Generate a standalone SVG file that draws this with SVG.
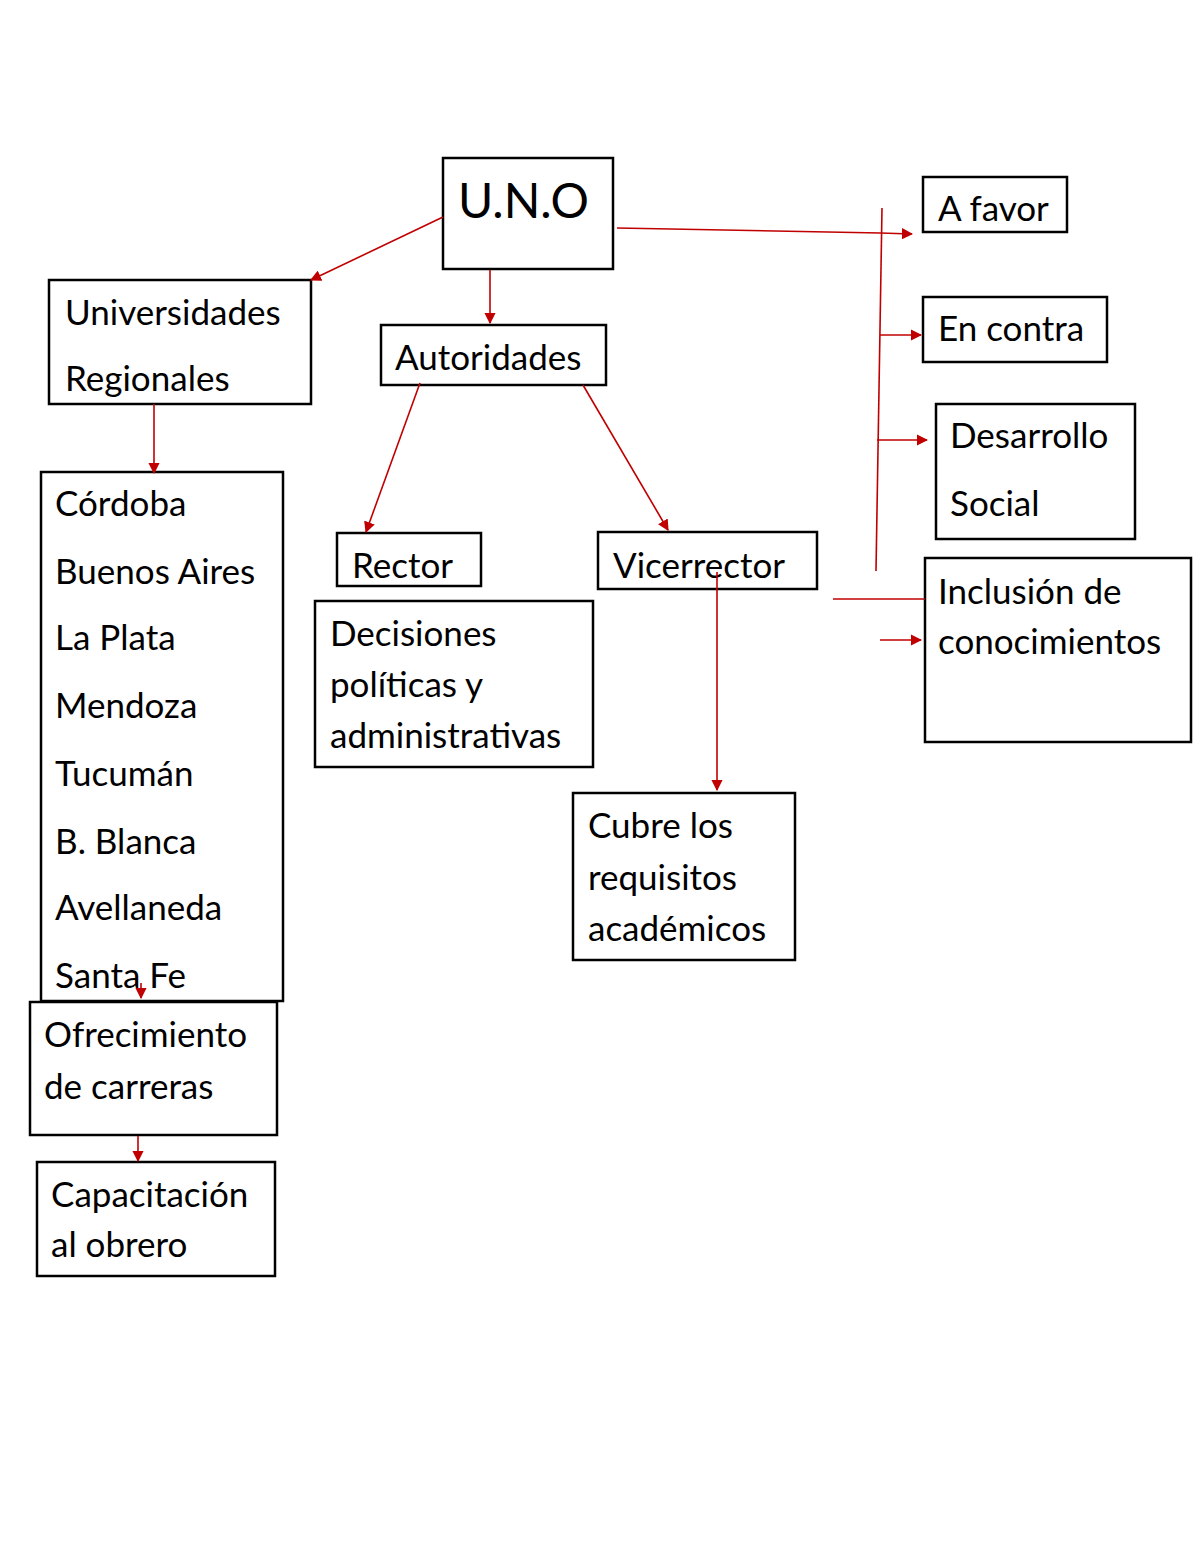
<svg xmlns="http://www.w3.org/2000/svg" width="1200" height="1553" viewBox="0 0 1200 1553">
<style>
.b{fill:none;stroke:#000;stroke-width:2.5}
.t{font-family:Lato,"Open Sans",sans-serif;font-size:35px;fill:#000}
.c line,.c polyline{stroke:#c00000;stroke-width:1.6;fill:none}
</style>
<defs><marker id="a" viewBox="0 0 10 10" refX="9" refY="5" markerWidth="7" markerHeight="7" orient="auto"><path d="M0,0L10,5L0,10z" fill="#c00000"/></marker></defs>
<rect width="1200" height="1553" fill="#fff"/>
<g id="uno"><rect class="b" x="443" y="158" width="170" height="111"/><text class="t" x="458" y="218" style="font-size:48px">U.N.O</text></g>
<g id="univ"><rect class="b" x="49" y="280" width="262" height="124"/><text class="t" x="65" y="325">Universidades</text><text class="t" x="65" y="391">Regionales</text></g>
<g id="aut"><rect class="b" x="381" y="325" width="225" height="60"/><text class="t" x="395" y="370">Autoridades</text></g>
<g id="ciudades"><rect class="b" x="41" y="472" width="242" height="529"/>
<text class="t" x="55" y="516">Córdoba</text><text class="t" x="55" y="584">Buenos Aires</text><text class="t" x="55" y="650">La Plata</text><text class="t" x="55" y="718">Mendoza</text><text class="t" x="55" y="786">Tucumán</text><text class="t" x="55" y="854">B. Blanca</text><text class="t" x="55" y="920">Avellaneda</text><text class="t" x="55" y="988">Santa Fe</text></g>
<g id="rector"><rect class="b" x="337" y="533" width="144" height="53"/><text class="t" x="352" y="578">Rector</text></g>
<g id="decisiones"><rect class="b" x="315" y="601" width="278" height="166"/><text class="t" x="330" y="646">Decisiones</text><text class="t" x="330" y="697">políticas  y</text><text class="t" x="330" y="748">administrativas</text></g>
<g id="vice"><rect class="b" x="598" y="532" width="219" height="57"/><text class="t" x="613" y="578">Vicerrector</text></g>
<g id="cubre"><rect class="b" x="573" y="793" width="222" height="167"/><text class="t" x="588" y="838">Cubre los</text><text class="t" x="588" y="890">requisitos</text><text class="t" x="588" y="941">académicos</text></g>
<g id="afavor"><rect class="b" x="923" y="177" width="144" height="55"/><text class="t" x="938" y="221">A favor</text></g>
<g id="encontra"><rect class="b" x="923" y="297" width="184" height="65"/><text class="t" x="938" y="341">En contra</text></g>
<g id="desarrollo"><rect class="b" x="936" y="404" width="199" height="135"/><text class="t" x="950" y="448">Desarrollo</text><text class="t" x="950" y="516">Social</text></g>
<g id="inclusion"><rect class="b" x="925" y="558" width="266" height="184"/><text class="t" x="938" y="604">Inclusión de</text><text class="t" x="938" y="654">conocimientos</text></g>
<g id="ofrec"><rect class="b" x="30" y="1002" width="247" height="133"/><text class="t" x="44" y="1047">Ofrecimiento</text><text class="t" x="44" y="1099">de carreras</text></g>
<g id="capac"><rect class="b" x="37" y="1162" width="238" height="114"/><text class="t" x="51" y="1207">Capacitación</text><text class="t" x="51" y="1257">al obrero</text></g>
<g class="c" id="connectors">
<line x1="443" y1="217" x2="311" y2="280" marker-end="url(#a)"/>
<line x1="490" y1="270" x2="490" y2="323" marker-end="url(#a)"/>
<polyline points="617,228 880,233 912,234" marker-end="url(#a)"/>
<line x1="882" y1="208" x2="876" y2="571"/>
<line x1="880" y1="335" x2="921" y2="335" marker-end="url(#a)"/>
<line x1="877" y1="440" x2="927" y2="440" marker-end="url(#a)"/>
<line x1="833" y1="599" x2="925" y2="599"/>
<line x1="880" y1="640" x2="921" y2="640" marker-end="url(#a)"/>
<line x1="154" y1="404" x2="154" y2="473" marker-end="url(#a)"/>
<line x1="420" y1="383" x2="366" y2="532" marker-end="url(#a)"/>
<line x1="583" y1="385" x2="668" y2="530" marker-end="url(#a)"/>
<line x1="717" y1="572" x2="717" y2="790" marker-end="url(#a)"/>
<line x1="141" y1="983" x2="141" y2="998" marker-end="url(#a)"/>
<line x1="138" y1="1136" x2="138" y2="1161" marker-end="url(#a)"/>
</g>
</svg>
